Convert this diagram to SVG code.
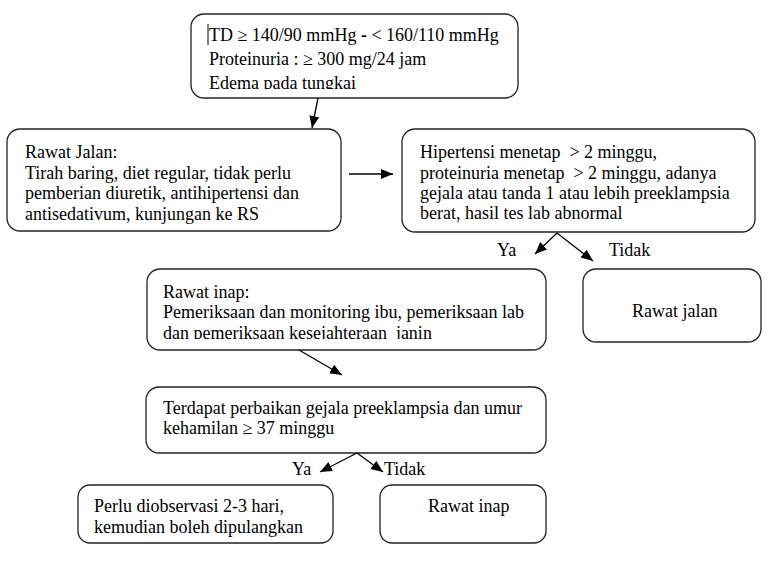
<svg xmlns="http://www.w3.org/2000/svg" width="780" height="566" viewBox="0 0 780 566">
<style>
.box{fill:#fff;stroke:#222;stroke-width:1.3}
.t{font-family:"Liberation Serif","Times New Roman",serif;font-size:18px;fill:#000;white-space:pre}
.c{stroke:#000;stroke-width:1.3;fill:none;marker-end:url(#ah)}
</style>
<defs>
<marker id="ah" markerUnits="userSpaceOnUse" markerWidth="14" markerHeight="12" refX="12" refY="5" orient="auto">
<path d="M0,0 L12,5 L0,10 Z" fill="#000"/>
</marker>
<clipPath id="clip1"><rect x="190" y="14" width="330" height="75"/></clipPath>
<clipPath id="clip4"><rect x="146" y="268" width="402" height="71"/></clipPath>
</defs>
<rect width="780" height="566" fill="#fff"/>

<g id="n1">
<rect class="box" x="191" y="14" width="327" height="84" rx="13"/>
<line x1="208" y1="24" x2="208" y2="45" stroke="#000" stroke-width="1"/>
<g clip-path="url(#clip1)">
<text class="t" x="209" y="41">TD ≥ 140/90 mmHg <tspan font-weight="bold">-</tspan> &lt; 160/110 mmHg</text>
<text class="t" x="209" y="65">Proteinuria : ≥ 300 mg/24 jam</text>
<text class="t" x="209" y="89">Edema pada tungkai</text>
</g>
</g>

<g id="n2">
<rect class="box" x="7" y="129" width="334" height="102" rx="13"/>
<text class="t" x="25" y="158">Rawat Jalan:</text>
<text class="t" x="25" y="179">Tirah baring, diet regular, tidak perlu</text>
<text class="t" x="25" y="199">pemberian diuretik, antihipertensi dan</text>
<text class="t" x="25" y="220">antisedativum, kunjungan ke RS</text>
</g>

<g id="n3">
<rect class="box" x="402" y="129" width="353" height="103" rx="13"/>
<text class="t" x="420" y="158">Hipertensi menetap  &gt; 2 minggu,</text>
<text class="t" x="420" y="179">proteinuria menetap  &gt; 2 minggu, adanya</text>
<text class="t" x="420" y="199">gejala atau tanda 1 atau lebih preeklampsia</text>
<text class="t" x="420" y="219">berat, hasil tes lab abnormal</text>
</g>

<g id="lbl-ya1">
<rect x="484" y="233" width="48" height="28" fill="#fff"/>
<text class="t" x="497" y="256">Ya</text>
</g>
<g id="lbl-tidak1">
<rect x="594" y="233" width="86" height="28" fill="#fff"/>
<text class="t" x="609" y="256">Tidak</text>
</g>

<g id="n4">
<rect class="box" x="147" y="269" width="399" height="81" rx="13"/>
<text class="t" x="163" y="298">Rawat inap:</text>
<g clip-path="url(#clip4)">
<text class="t" x="163" y="318">Pemeriksaan dan monitoring ibu, pemeriksaan lab</text>
<text class="t" x="163" y="339">dan pemeriksaan kesejahteraan  janin</text>
</g>
</g>

<g id="n5">
<rect class="box" x="583" y="269" width="178" height="73" rx="13"/>
<text class="t" x="632" y="317">Rawat jalan</text>
</g>

<g id="n6">
<rect class="box" x="146" y="387" width="400" height="66" rx="13"/>
<text class="t" x="163" y="414">Terdapat perbaikan gejala preeklampsia dan umur</text>
<text class="t" x="163" y="434">kehamilan ≥ 37 minggu</text>
</g>

<g id="lbl-ya2"><text class="t" x="292" y="475">Ya</text></g>
<g id="lbl-tidak2"><text class="t" x="384" y="475">Tidak</text></g>

<g id="n7">
<rect class="box" x="78" y="485" width="255" height="58" rx="12"/>
<text class="t" x="94" y="512">Perlu diobservasi 2-3 hari,</text>
<text class="t" x="94" y="533">kemudian boleh dipulangkan</text>
</g>

<g id="n8">
<rect class="box" x="380" y="485" width="166" height="58" rx="12"/>
<text class="t" x="428" y="512">Rawat inap</text>
</g>

<g id="connectors">
<line class="c" x1="318" y1="98" x2="312" y2="128"/>
<line class="c" x1="349" y1="174" x2="393" y2="174"/>
<line class="c" x1="557" y1="233" x2="535" y2="254"/>
<line class="c" x1="557" y1="233" x2="593" y2="261"/>
<line class="c" x1="299" y1="350" x2="342" y2="375"/>
<line class="c" x1="357" y1="453" x2="320" y2="472"/>
<line class="c" x1="357" y1="453" x2="383" y2="472"/>
</g>
</svg>
